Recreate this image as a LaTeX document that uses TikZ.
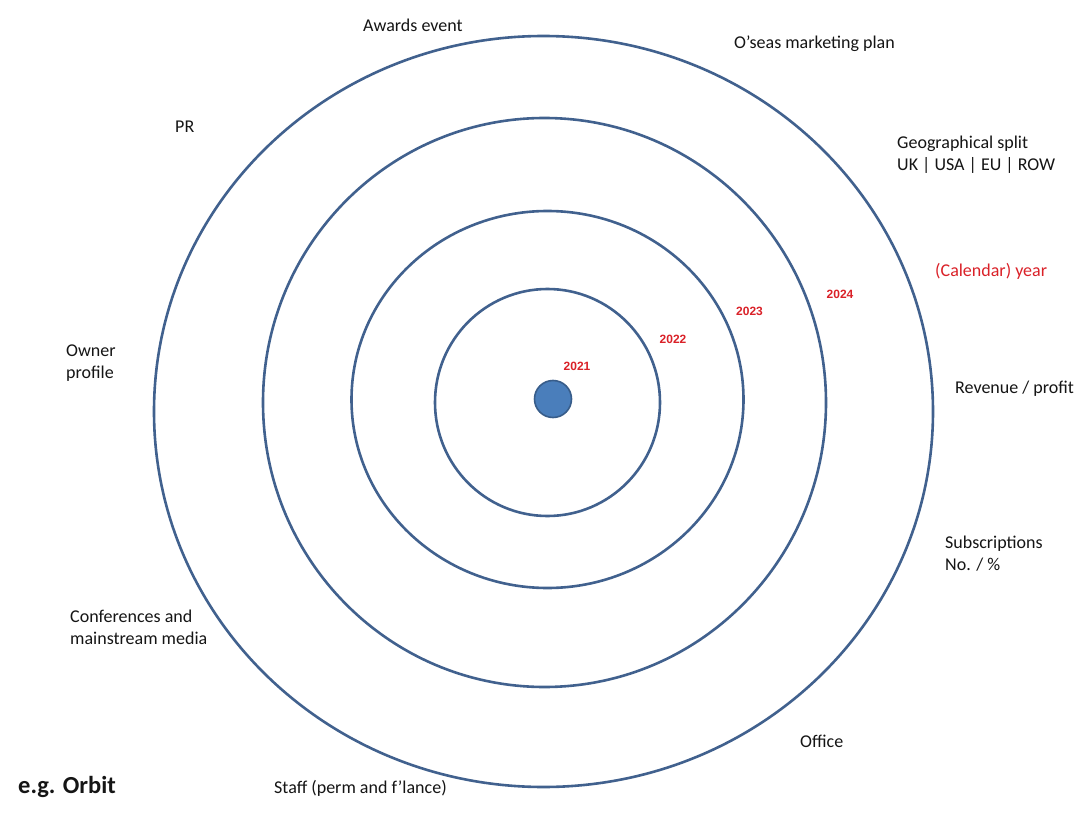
\documentclass[tikz,border=0pt]{standalone}
\usepackage{fontspec}
\setmainfont{Carlito}
\newfontfamily\yearfont{Liberation Sans}
\usetikzlibrary{shapes.geometric}
\definecolor{ringblue}{HTML}{41618E}
\definecolor{dotfill}{HTML}{4A7EBB}
\definecolor{dotline}{HTML}{385D8A}
\definecolor{yearred}{HTML}{DA2128}
\definecolor{txt}{HTML}{151515}
\tikzset{
  ring/.style={draw=ringblue, line width=2.6pt},
  lbl/.style={anchor=west, inner sep=0pt, text=txt, font=\fontsize{18}{21.5}\selectfont, align=left},
  yr/.style={inner sep=0pt, text=yearred, font=\yearfont\bfseries\fontsize{12}{14}\selectfont},
}
\begin{document}
\begin{tikzpicture}[x=1pt,y=-1pt]
\useasboundingbox[fill=white] (0,0) rectangle (1088,816);
% rings
\draw[ring] (543.5,411.5) ellipse [x radius=389.5pt, y radius=375.5pt];
\draw[ring] (544.5,402.5) ellipse [x radius=281.5pt, y radius=284.5pt];
\draw[ring] (547.5,399.5) ellipse [x radius=196pt, y radius=188.5pt];
\draw[ring] (547.5,402.5) ellipse [x radius=112.5pt, y radius=113.5pt];
% centre dot
\node[circle, minimum size=37pt, inner sep=0pt, fill=dotfill, draw=dotline, line width=1.6pt] (dot) at (553,399) {};
% year labels
\node[yr] (y2021) at (577,366) {2021};
\node[yr] (y2022) at (673,339) {2022};
\node[yr] (y2023) at (749.5,311) {2023};
\node[yr] (y2024) at (840,294) {2024};
% labels
\node[lbl] (awards) at (363,25) {Awards event};
\node[lbl] (oseas) at (734,44) {O’seas marketing plan};
\node[lbl] (pr) at (175,127) {PR};
\node[lbl] (geo) at (897,154.5) {Geographical split\\UK | USA | EU | ROW};
\node[lbl, text=yearred] (cal) at (935,271) {(Calendar) year};
\node[lbl] (owner) at (66,363) {Owner\\profile};
\node[lbl] (rev) at (955,389) {Revenue / profit};
\node[lbl] (subs) at (945,553.5) {Subscriptions\\No. / \%};
\node[lbl] (conf) at (70,627.5) {Conferences and\\mainstream media};
\node[lbl] (office) at (800,741) {Office};
\node[lbl] (staff) at (274,788) {Staff (perm and f’lance)};
\node[lbl, font=\bfseries\fontsize{24.5}{28}\selectfont] (orbit) at (18,787) {e.g. Orbit};
\end{tikzpicture}
\end{document}
